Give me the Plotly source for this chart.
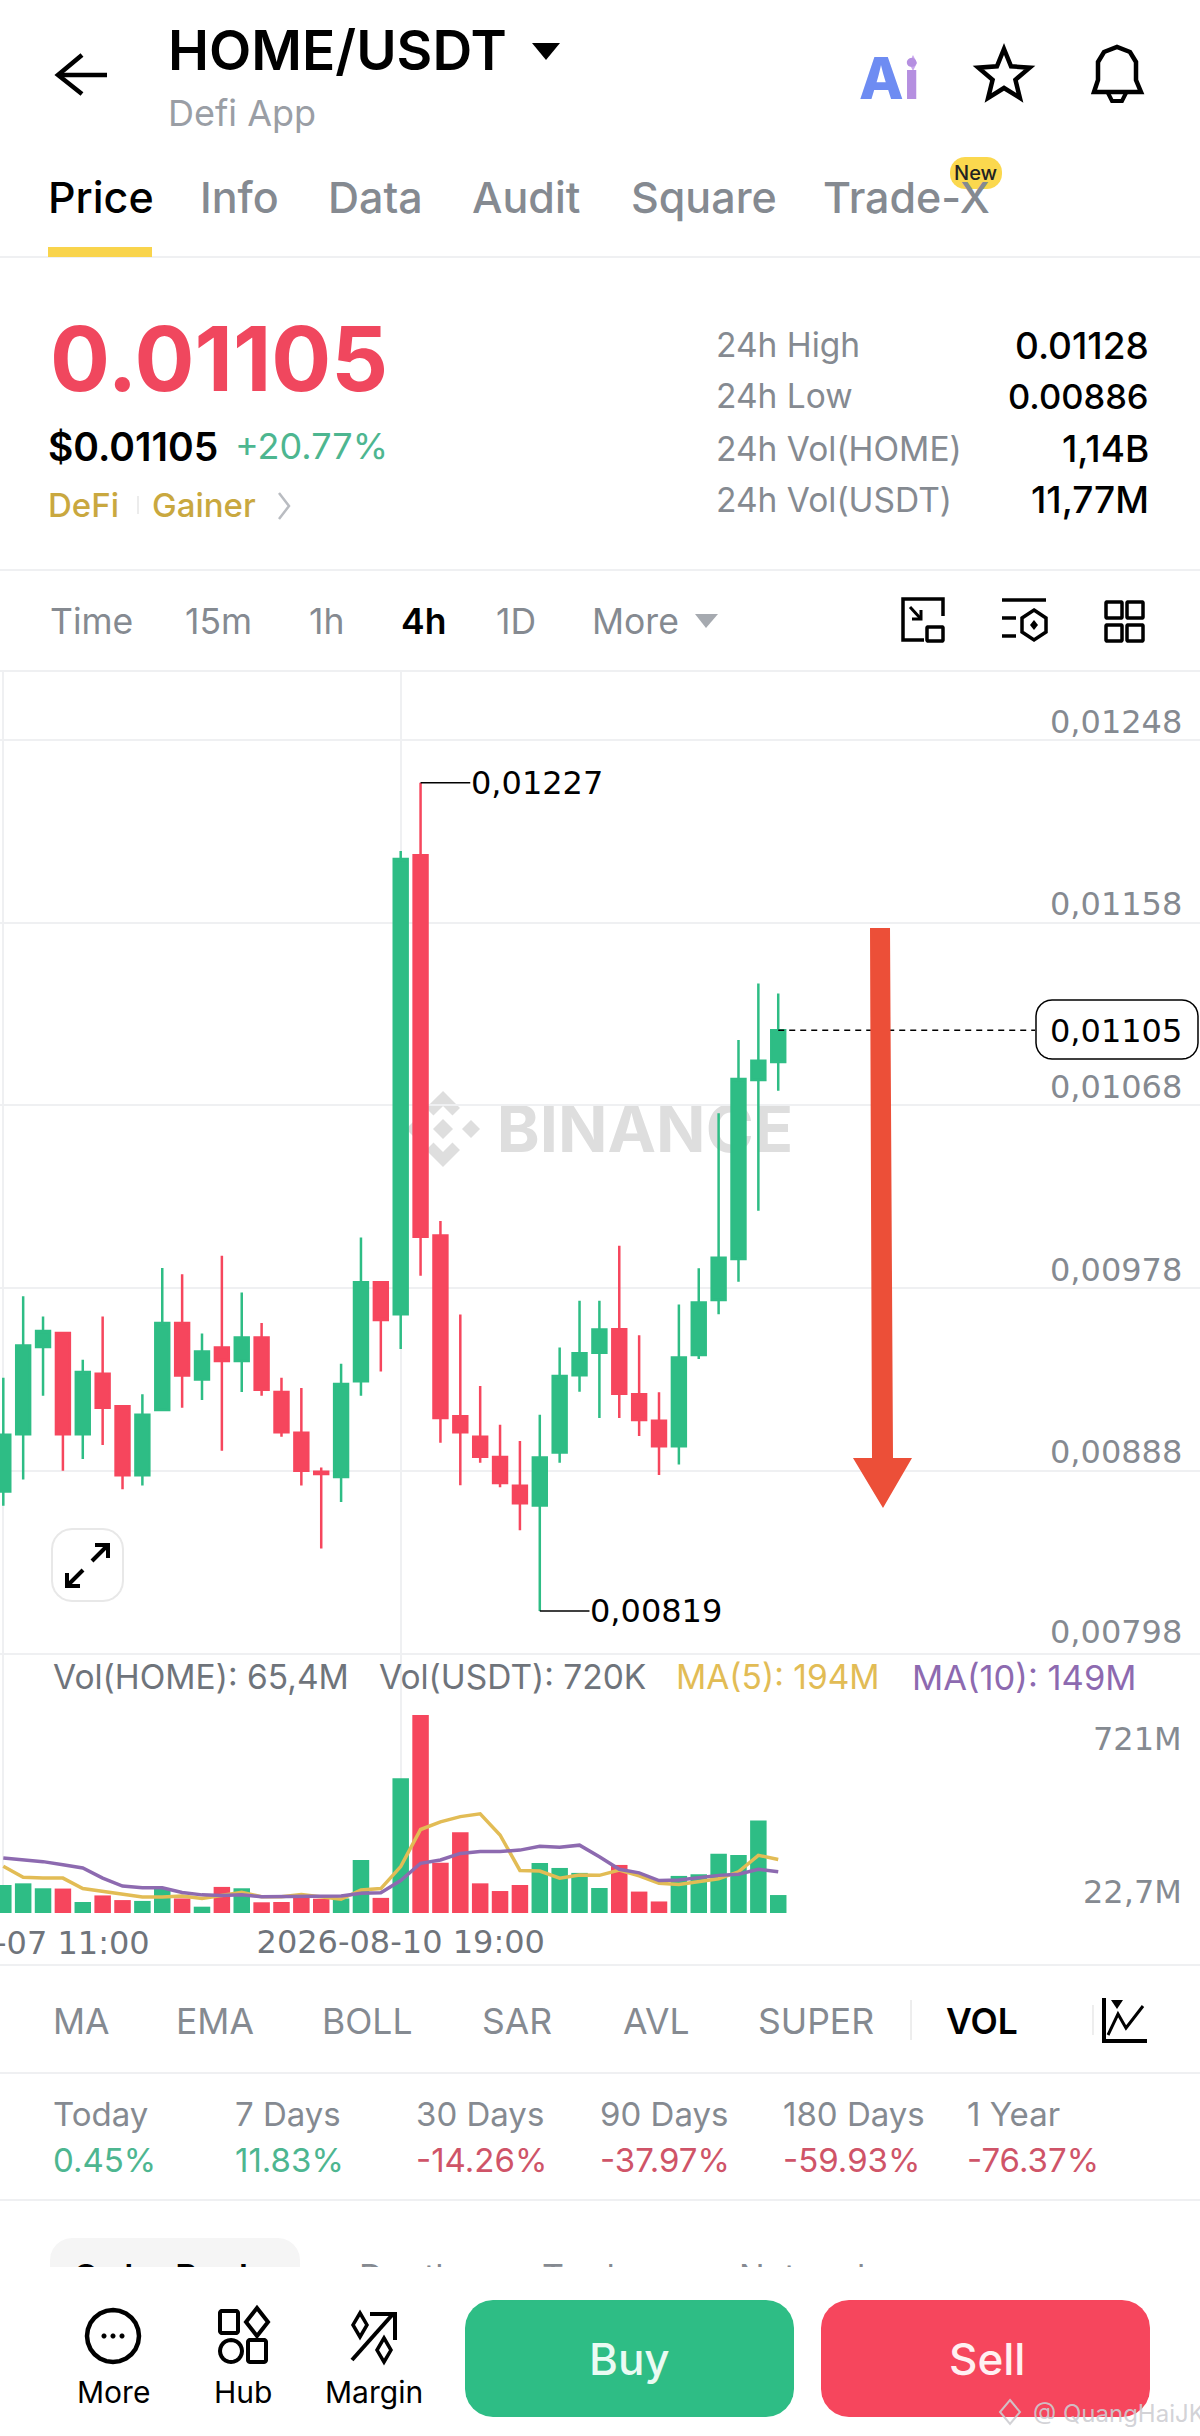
import math
import pandas as pd
import plotly.graph_objects as go

W, H = 1200, 2436
FONT = "Inter"
NUM_FONT = "DejaVu Sans"
GREEN = "#2EBD85"
RED = "#F6465D"
GRAY = "#858A91"
GRID = "#EFF0F2"

# 4h candles
times = pd.date_range("2026-08-07 11:00", periods=40, freq="4h")
opens = [0.008779, 0.009060, 0.009490, 0.009559, 0.009060, 0.009359, 0.009198, 0.008859, 0.009180, 0.009608,
         0.009330, 0.009488, 0.009421, 0.009537, 0.009268, 0.009068, 0.008876, 0.008850, 0.009321, 0.009809,
         0.009652, 0.011913, 0.010039, 0.009149, 0.009048, 0.008948, 0.008807, 0.008710, 0.008970, 0.009351,
         0.009462, 0.009578, 0.009257, 0.009127, 0.009001, 0.009451, 0.009722, 0.009924, 0.010805, 0.010894]
highs = [0.009339, 0.009740, 0.009640, 0.009559, 0.009428, 0.009640, 0.009198, 0.009258, 0.009879, 0.009849,
         0.009557, 0.009940, 0.009759, 0.009608, 0.009339, 0.009288, 0.008897, 0.009408, 0.010030, 0.009809,
         0.011933, 0.012270, 0.010111, 0.009650, 0.009298, 0.009107, 0.009027, 0.009157, 0.009488, 0.009718,
         0.009718, 0.009989, 0.009548, 0.009267, 0.009699, 0.009878, 0.010641, 0.011002, 0.011281, 0.011232]
lows = [0.008708, 0.008838, 0.009250, 0.008881, 0.008938, 0.009007, 0.008789, 0.008808, 0.009180, 0.009191,
        0.009229, 0.008979, 0.009268, 0.009250, 0.009048, 0.008808, 0.008498, 0.008727, 0.009250, 0.009369,
        0.009480, 0.009841, 0.009019, 0.008809, 0.008920, 0.008799, 0.008588, 0.008190, 0.008920, 0.009270,
        0.009140, 0.009140, 0.009052, 0.008860, 0.008911, 0.009431, 0.009651, 0.009812, 0.010161, 0.010753]
closes = [0.009058, 0.009498, 0.009569, 0.009060, 0.009367, 0.009191, 0.008859, 0.009157, 0.009608, 0.009350,
          0.009468, 0.009421, 0.009537, 0.009280, 0.009070, 0.008881, 0.008865, 0.009308, 0.009809, 0.009623,
          0.011894, 0.010033, 0.009140, 0.009070, 0.008950, 0.008820, 0.008720, 0.008946, 0.009347, 0.009459,
          0.009577, 0.009260, 0.009131, 0.009001, 0.009438, 0.009709, 0.009930, 0.010810, 0.010900, 0.011050]

# volume in millions
volume = [102, 108, 90, 89, 40, 64, 47, 44, 90, 53, 23, 95, 90, 39, 40, 57, 52, 53, 193, 55,
          491, 721, 183, 294, 108, 80, 102, 182, 164, 146, 91, 175, 78, 42, 135, 141, 216, 211, 337, 65.4]
ma5 = [170, 130, 127, 127, 89, 79, 66, 58, 58, 62, 53, 63, 75, 59, 59, 67, 59, 50, 84, 89,
       169, 304, 332, 351, 361, 284, 155, 153, 127, 138, 137, 156, 135, 108, 104, 114, 125, 150, 210, 195]
ma10 = [200, 194, 187, 176, 164, 127, 98, 92, 92, 75, 66, 64, 66, 59, 59, 61, 59, 62, 72, 74,
        118, 181, 193, 217, 224, 224, 229, 243, 239, 247, 205, 159, 146, 118, 120, 129, 137, 141, 159, 150]
bar_colors = [GREEN if c >= o else RED for o, c in zip(opens, closes)]

price_ticks = [0.01248, 0.01158, 0.01068, 0.00978, 0.00888, 0.00798]
price_tick_labels = ["0,01248", "0,01158", "0,01068", "0,00978", "0,00888", "0,00798"]
time_ticks = [times[0], times[20]]
time_tick_labels = ["2026-08-07 11:00", "2026-08-10 19:00"]
last_price = 0.01105

# candle i sits at 3.3 + 19.87 * i pixels
step = pd.Timedelta(hours=4)
x_range = [times[0] - step * (3.3 / 19.87), times[0] + step * ((1200 - 3.3) / 19.87)]


def fx(x):
    return x / W


def fy(y):
    return 1 - y / H


shapes = []
notes = []


def poly(pts, fill=None, stroke=None, lw=0, closed=True, layer="above"):
    d = "M" + " L".join(f"{fx(x):.5f},{fy(y):.5f}" for x, y in pts) + (" Z" if closed else "")
    shapes.append(dict(type="path", path=d, xref="paper", yref="paper", layer=layer,
                       fillcolor=fill or "rgba(0,0,0,0)",
                       line=dict(color=stroke or "rgba(0,0,0,0)", width=lw)))


def hline(y, x0=0, x1=W, color=GRID, lw=2):
    poly([(x0, y), (x1, y)], stroke=color, lw=lw, closed=False)


def rrect(x0, y0, x1, y1, r, fill=None, stroke=None, lw=0, layer="above"):
    pts = []
    for cx, cy, a0 in [(x1 - r, y0 + r, -90), (x1 - r, y1 - r, 0), (x0 + r, y1 - r, 90), (x0 + r, y0 + r, 180)]:
        for k in range(7):
            a = math.radians(a0 + k * 15)
            pts.append((cx + r * math.cos(a), cy + r * math.sin(a)))
    poly(pts, fill, stroke, lw, layer=layer)


def circle(cx, cy, r, fill=None, stroke=None, lw=0):
    rrect(cx - r, cy - r, cx + r, cy + r, r, fill, stroke, lw)


def diamond(cx, cy, rx, ry, fill=None, stroke=None, lw=0, layer="above"):
    poly([(cx, cy - ry), (cx + rx, cy), (cx, cy + ry), (cx - rx, cy)], fill, stroke, lw, layer=layer)


def txt(x, y, s, size, color="#000000", anchor="left", weight=400, family=FONT):
    if anchor == "left":
        x -= 1.5
    notes.append(dict(x=fx(x), y=fy(y), xref="paper", yref="paper", text=s, showarrow=False,
                      xanchor=anchor, yanchor="middle", borderpad=0,
                      font=dict(family=family, size=size, color=color, weight=weight)))


# section rules
for yy in [257, 570, 671, 1654, 1965, 2073, 2200]:
    hline(yy)

# header
poly([(107, 75), (58, 75)], stroke="#000", lw=4.5, closed=False)
poly([(82, 55), (58, 75), (82, 94)], stroke="#000", lw=4.5, closed=False)
txt(168, 50, "HOME/USDT", 55, weight=600)
poly([(532, 43), (560, 43), (546, 60)], fill="#000")
txt(168, 113, "Defi App", 36, "#9A9EA5")
txt(859, 78, "A", 58, "#6E8CF2", weight=800)
txt(904, 80, "i", 54, "#B58FE0", weight=800)
diamond(913, 63, 4, 8, fill="#C9A6EE")
star = []
for k in range(10):
    r = 27 if k % 2 == 0 else 12
    a = math.radians(-90 + k * 36)
    star.append((1004 + r * math.cos(a), 76 + r * math.sin(a)))
poly(star, stroke="#000", lw=4.5)
poly([(1094, 92), (1098, 80), (1098, 62), (1104, 52), (1117, 47), (1130, 52), (1136, 62), (1136, 80), (1141, 92)],
     stroke="#000", lw=4.5)
poly([(1108, 93), (1112, 101), (1122, 101), (1126, 93)], stroke="#000", lw=4, closed=False)

# tabs
for name, xx, col in [("Price", 48, "#000"), ("Info", 200, GRAY), ("Data", 328, GRAY), ("Audit", 472, GRAY),
                      ("Square", 631, GRAY), ("Trade-X", 823, GRAY)]:
    txt(xx, 197, name, 43, col, weight=500)
poly([(48, 247), (152, 247), (152, 257), (48, 257)], fill="#F9D44C")
rrect(950, 157, 1002, 189, 15, fill="#FBD84E")
txt(976, 173, "New", 20, "#222", "center", 500)

# price block
txt(50, 359, "0.01105", 89, "#F0475E", weight=700)
txt(48, 446, "$0.01105", 39, weight=600)
txt(235, 446, "+20.77%", 36, "#4DB690")
txt(48, 505, "DeFi", 33, "#C9A83F", weight=500)
poly([(138, 496), (138, 514)], stroke="#E6E6E6", lw=1.5, closed=False)
txt(152, 505, "Gainer", 33, "#C9A83F", weight=500)
poly([(279, 493), (289, 506), (279, 519)], stroke="#B9BCC1", lw=2.5, closed=False)
stat_labels = ["24h High", "24h Low", "24h Vol(HOME)", "24h Vol(USDT)"]
stat_values = ["0.01128", "0.00886", "1,14B", "11,77M"]
stat_sizes = [37, 34.5, 37, 37]
for yy, a, b, sz in zip([345, 396, 449, 500], stat_labels, stat_values, stat_sizes):
    txt(716, yy, a, 33.5, GRAY)
    txt(1150, yy, b, sz, "#000", "right", 500)

# timeframe row
for name, xx in [("Time", 50), ("15m", 185), ("1h", 309), ("1D", 496), ("More", 592)]:
    txt(xx, 622, name, 35.5, GRAY)
txt(401, 622, "4h", 35.5, "#000", weight=600)
poly([(695, 614), (718, 614), (706, 628)], fill="#A6AAB0")
# toolbar icons
poly([(924, 640), (903, 640), (903, 599), (943, 599), (943, 616)], stroke="#000", lw=3.5, closed=False)
rrect(927, 627, 943, 641, 1, stroke="#000", lw=3.5)
poly([(910, 607), (921, 619)], stroke="#000", lw=3, closed=False)
poly([(912, 619), (921, 619), (921, 610)], stroke="#000", lw=3, closed=False)
hline(600, 1002, 1046, "#000", 3.5)
hline(618, 1002, 1016, "#000", 3.5)
hline(636, 1002, 1016, "#000", 3.5)
poly([(1034, 610), (1046, 618), (1046, 632), (1034, 640), (1022, 632), (1022, 618)], stroke="#000", lw=3.5)
diamond(1034, 625, 4, 5, fill="#000")
for cx in (1114, 1135):
    for cy in (610, 633):
        rrect(cx - 8, cy - 8, cx + 8, cy + 8, 1, stroke="#000", lw=3.5)

# watermark sits under the candles
for pts in ([(443, 1091), (460, 1108), (452.5, 1115.5), (443, 1106), (433.5, 1115.5), (426, 1108)],
            [(443, 1167), (460, 1150), (452.5, 1142.5), (443, 1152), (433.5, 1142.5), (426, 1150)]):
    poly(pts, fill="#DEDEDE", layer="below")
diamond(443, 1129, 10, 10, fill="#DEDEDE", layer="below")
diamond(415, 1129, 9, 9, fill="#DEDEDE", layer="below")
diamond(471, 1129, 9, 9, fill="#DEDEDE", layer="below")
shapes.append(dict(type="rect", xref="paper", yref="paper", x0=fx(497), x1=fx(793), y0=fy(1156), y1=fy(1096),
                   layer="below", line=dict(width=0), fillcolor="rgba(0,0,0,0)",
                   label=dict(text="BINANCE", textposition="middle center",
                              font=dict(family=FONT, size=65, color="#DEDEDE", weight=700))))

# price level labels
for v, lab in zip(price_ticks, price_tick_labels):
    notes.append(dict(x=fx(1183), y=v, xref="paper", yref="y", text=lab, showarrow=False, xanchor="right",
                      yanchor="bottom", borderpad=0, yshift=2 if v == price_ticks[-1] else -1.5,
                      font=dict(family=NUM_FONT, size=32, color="#858A91")))

# high / low call-outs
for idx, v, lab in [(21, max(highs), "0,01227"), (27, min(lows), "0,00819")]:
    x_end = times[idx] + step * 2.5
    shapes.append(dict(type="line", xref="x", yref="y", x0=times[idx], x1=x_end, y0=v, y1=v, layer="above",
                       line=dict(color="#000", width=1.5)))
    notes.append(dict(x=x_end, y=v, xref="x", yref="y", text=lab, showarrow=False, xanchor="left",
                      yanchor="middle", borderpad=0, font=dict(family=NUM_FONT, size=32, color="#000")))

# last price line and tag
shapes.append(dict(type="line", xref="x", yref="y", x0=times[39], x1=x_range[0] + step * (1035 / 19.87),
                   y0=last_price, y1=last_price, layer="above", line=dict(color="#000", width=1.5, dash="6px,5px")))
poly([(870, 928), (890, 928), (893, 1458), (912, 1458), (883, 1508), (853, 1458), (872, 1458)], fill="#EC4F38")
rrect(1036, 1000, 1198, 1059, 16, fill="#FFF", stroke="#000", lw=1.5)
notes.append(dict(x=fx(1183), y=last_price, xref="paper", yref="y", text="0,01105", showarrow=False,
                  xanchor="right", yanchor="middle", borderpad=0, yshift=-1,
                  font=dict(family=NUM_FONT, size=32, color="#000")))

# expand button
rrect(52, 1529, 123, 1601, 20, fill="#FFF", stroke="#E8E8E8", lw=2)
poly([(92, 1561), (108, 1545)], stroke="#000", lw=4, closed=False)
poly([(95, 1545), (108, 1545), (108, 1558)], stroke="#000", lw=4, closed=False)
poly([(83, 1570), (67, 1586)], stroke="#000", lw=4, closed=False)
poly([(67, 1573), (67, 1586), (80, 1586)], stroke="#000", lw=4, closed=False)

# volume header
txt(53, 1677, "Vol(HOME): 65,4M", 33.5, "#6F747B")
txt(379, 1677, "Vol(USDT): 720K", 33.5, "#6F747B")
txt(676, 1677, "MA(5): 194M", 33.5, "#E2BC55")
txt(912, 1677, "MA(10): 149M", 34.5, "#8D6AB0")
txt(1183, 1739, "721M", 32, GRAY, "right", family=NUM_FONT)
txt(1183, 1892, "22,7M", 32, GRAY, "right", family=NUM_FONT)
# first date label runs off the left edge of the screen, only its tail shows
txt(151, 1943, "-07 11:00", 32, "#6F747B", "right", family=NUM_FONT)

# indicator row
for name, xx in [("MA", 53), ("EMA", 176), ("BOLL", 322), ("SAR", 482), ("AVL", 623), ("SUPER", 758)]:
    txt(xx, 2021, name, 35.5, GRAY)
txt(946, 2021, "VOL", 35.5, "#000", weight=600)
poly([(911, 2000), (911, 2040)], stroke="#E8E8E8", lw=1.5, closed=False)
poly([(1093, 2005), (1093, 2035)], stroke="#E8E8E8", lw=1.5, closed=False)
poly([(1104, 1998), (1104, 2041), (1147, 2041)], stroke="#000", lw=4, closed=False)
poly([(1108, 2035), (1118, 2014), (1126, 2028), (1143, 2006)], stroke="#000", lw=3, closed=False)
poly([(1111, 2000), (1123, 2000), (1117, 2009)], fill="#000")

# period returns
period_names = ["Today", "7 Days", "30 Days", "90 Days", "180 Days", "1 Year"]
period_values = ["0.45%", "11.83%", "-14.26%", "-37.97%", "-59.93%", "-76.37%"]
for xx, a, b in zip([53, 235, 416, 600, 783, 967], period_names, period_values):
    txt(xx, 2114, a, 33, GRAY)
    txt(xx, 2160, b, 33, "#4DB690" if b[0] != "-" else "#CF5468")

# order book tabs, tops only, cut off by the bottom bar
rrect(50, 2238, 300, 2300, 22, fill="#F5F5F5", layer="below")
for name, xx in [("Order Book", 70), ("Depth", 356), ("Trades", 539), ("Network", 736)]:
    shapes.append(dict(type="rect", xref="paper", yref="paper", x0=fx(xx), x1=fx(xx + 200), y0=fy(2305),
                       y1=fy(2245), layer="below", line=dict(width=0), fillcolor="rgba(0,0,0,0)",
                       label=dict(text=name, textposition="middle left", padding=0,
                                  font=dict(family=FONT, size=34, color="#000" if xx == 70 else GRAY,
                                            weight=600 if xx == 70 else 400))))
poly([(0, 2267), (W, 2267), (W, H), (0, H)], fill="#FFF")

# bottom bar
circle(113, 2336, 26, stroke="#000", lw=4.5)
for dx in (-9, 0, 9):
    circle(113 + dx, 2336, 2.5, fill="#000")
rrect(220, 2311, 238, 2333, 2, stroke="#000", lw=4)
diamond(257, 2322, 11, 14, stroke="#000", lw=4)
circle(231, 2351, 11, stroke="#000", lw=4)
rrect(248, 2340, 266, 2362, 2, stroke="#000", lw=4)
poly([(352, 2360), (393, 2314)], stroke="#000", lw=4, closed=False)
poly([(370, 2314), (395, 2314), (395, 2340)], stroke="#000", lw=4, closed=False)
diamond(360, 2325, 7, 12, stroke="#000", lw=3.5)
diamond(384, 2350, 7, 12, stroke="#000", lw=3.5)
txt(113, 2392, "More", 30, "#000", "center")
txt(243, 2392, "Hub", 30, "#000", "center")
txt(374, 2392, "Margin", 30, "#000", "center")
rrect(465, 2300, 794, 2417, 28, fill=GREEN)
rrect(821, 2300, 1150, 2417, 28, fill=RED)
txt(629, 2359, "Buy", 44, "#EAFBF3", "center", 500)
txt(987, 2359, "Sell", 44, "#FFF0F2", "center", 500)
txt(1033, 2413, "@ QuangHaiJK", 24, "rgba(205,205,210,0.9)")
diamond(1010, 2412, 10, 12, stroke="rgba(205,205,210,0.9)", lw=2)

fig = go.Figure()
fig.add_trace(go.Candlestick(x=times, open=opens, high=highs, low=lows, close=closes,
                             increasing=dict(line=dict(color=GREEN, width=2.5), fillcolor=GREEN),
                             decreasing=dict(line=dict(color=RED, width=2.5), fillcolor=RED),
                             xaxis="x2", yaxis="y", hoverinfo="skip"))
fig.add_trace(go.Bar(x=times, y=volume, marker=dict(color=bar_colors, line=dict(width=0)),
                     xaxis="x", yaxis="y2", hoverinfo="skip"))
fig.add_trace(go.Scatter(x=times, y=ma5, mode="lines", line=dict(color="#E2BC55", width=3.5),
                         xaxis="x", yaxis="y2", hoverinfo="skip"))
fig.add_trace(go.Scatter(x=times, y=ma10, mode="lines", line=dict(color="#8D6AB0", width=3.5),
                         xaxis="x", yaxis="y2", hoverinfo="skip"))

fig.update_layout(
    width=W, height=H, autosize=False,
    margin=dict(l=0, r=0, t=0, b=0),
    paper_bgcolor="#FFFFFF", plot_bgcolor="#FFFFFF",
    showlegend=False, bargap=0.17, boxgroupgap=0,
    font=dict(family=FONT),
    shapes=shapes, annotations=notes,
    xaxis=dict(type="date", domain=[0, 1], range=x_range, anchor="y2", showgrid=True, gridcolor=GRID, gridwidth=2,
               tickmode="array", tickvals=time_ticks, ticktext=time_tick_labels, ticklen=0, zeroline=False,
               tickfont=dict(family=NUM_FONT, size=32, color="#6F747B"), ticklabelstandoff=7, showline=False),
    xaxis2=dict(type="date", domain=[0, 1], range=x_range, anchor="y", showgrid=True, gridcolor=GRID, gridwidth=2,
                tickmode="array", tickvals=time_ticks, showticklabels=False, ticklen=0, zeroline=False,
                rangeslider=dict(visible=False), showline=False),
    yaxis=dict(domain=[fy(1654), fy(671)], range=[0.007978, 0.01282], tickmode="array", tickvals=price_ticks,
               showticklabels=False, ticklen=0, showgrid=True, gridcolor=GRID, gridwidth=2, zeroline=False,
               anchor="x2"),
    yaxis2=dict(domain=[fy(1913), fy(1654)], range=[0, 943], tickmode="array", tickvals=[0], showticklabels=False,
                ticklen=0, showgrid=True, gridcolor=GRID, gridwidth=2, zeroline=False, anchor="x"),
)

fig.write_html("out.html", config={"displayModeBar": False},
               post_script="document.body.style.margin='0';document.body.style.overflow='hidden';")
